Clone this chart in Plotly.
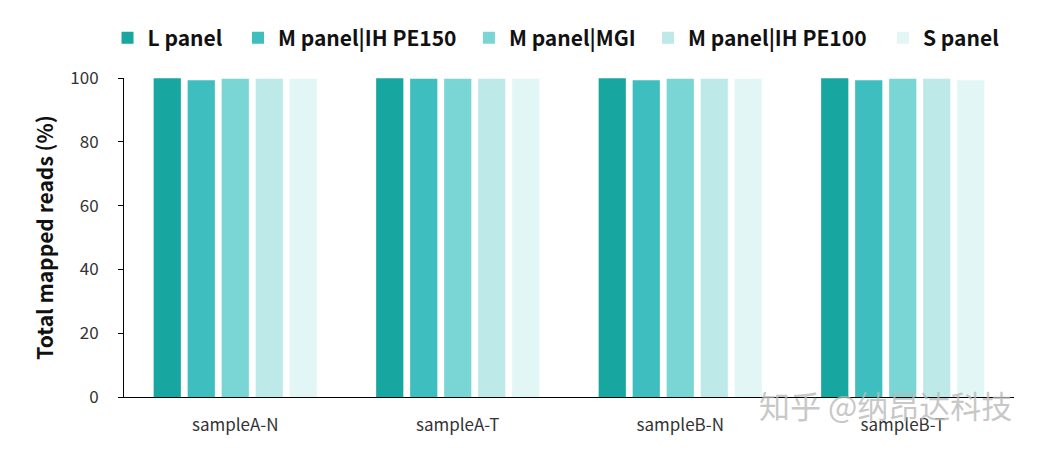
import plotly.graph_objects as go

categories = ["sampleA-N", "sampleA-T", "sampleB-N", "sampleB-T"]
series_names = ["L panel", "M panel|IH PE150", "M panel|MGI", "M panel|IH PE100", "S panel"]
l_panel = [99.9, 99.9, 99.9, 99.9]
m_ih150 = [99.3, 99.8, 99.3, 99.3]
m_mgi = [99.8, 99.8, 99.8, 99.8]
m_ih100 = [99.8, 99.8, 99.8, 99.8]
s_panel = [99.8, 99.8, 99.8, 99.3]
values = [l_panel, m_ih150, m_mgi, m_ih100, s_panel]
colors = ["#17A6A0", "#3EBEBE", "#7AD6D4", "#BDE9E9", "#E3F6F6"]
y_ticks = [0, 20, 40, 60, 80, 100]

font = "Noto Sans CJK SC"
legend_ids = ["legend", "legend2", "legend3", "legend4", "legend5"]
legend_x = [-0.0185, 0.1281, 0.3876, 0.5888, 0.8528]

fig = go.Figure()
for name, vals, col, lid in zip(series_names, values, colors, legend_ids):
    fig.add_trace(go.Bar(x=categories, y=vals, name=name, legend=lid,
                         marker=dict(color=col, line=dict(width=0))))

legend_style = dict(orientation="h", xanchor="left", y=1.125, yanchor="middle",
                    font=dict(size=21, color="#111111", family=font, weight="bold"),
                    bgcolor="rgba(0,0,0,0)")
layout_legends = {lid: dict(legend_style, x=lx) for lid, lx in zip(legend_ids, legend_x)}

fig.update_layout(
    width=1039, height=450,
    barmode="group", bargap=0.236, bargroupgap=0.2,
    plot_bgcolor="white", paper_bgcolor="white",
    margin=dict(l=116, r=33, t=70, b=61, autoexpand=False),
    font=dict(family=font, color="#333333"),
    showlegend=True,
    xaxis=dict(showline=True, linecolor="black", linewidth=1, ticks="", showgrid=False,
               ticklabelstandoff=13, tickfont=dict(size=17, color="#333333")),
    yaxis=dict(range=[0, 100], tickvals=y_ticks, showline=True, linecolor="black", linewidth=1,
               ticks="outside", ticklen=5, tickcolor="black", showgrid=False, zeroline=False,
               ticklabelstandoff=16, tickfont=dict(size=17, color="#333333"),
               title=dict(text="<b>Total mapped reads (%)</b>", font=dict(size=21, color="#111111"), standoff=10)),
    **layout_legends,
)
fig.add_annotation(text="知乎 @纳昂达科技", xref="paper", yref="paper", x=1.0, y=-0.025,
                   xanchor="right", yanchor="middle", showarrow=False,
                   font=dict(size=31, color="rgba(185,185,185,0.8)", family=font))
fig.write_html("out.html")
